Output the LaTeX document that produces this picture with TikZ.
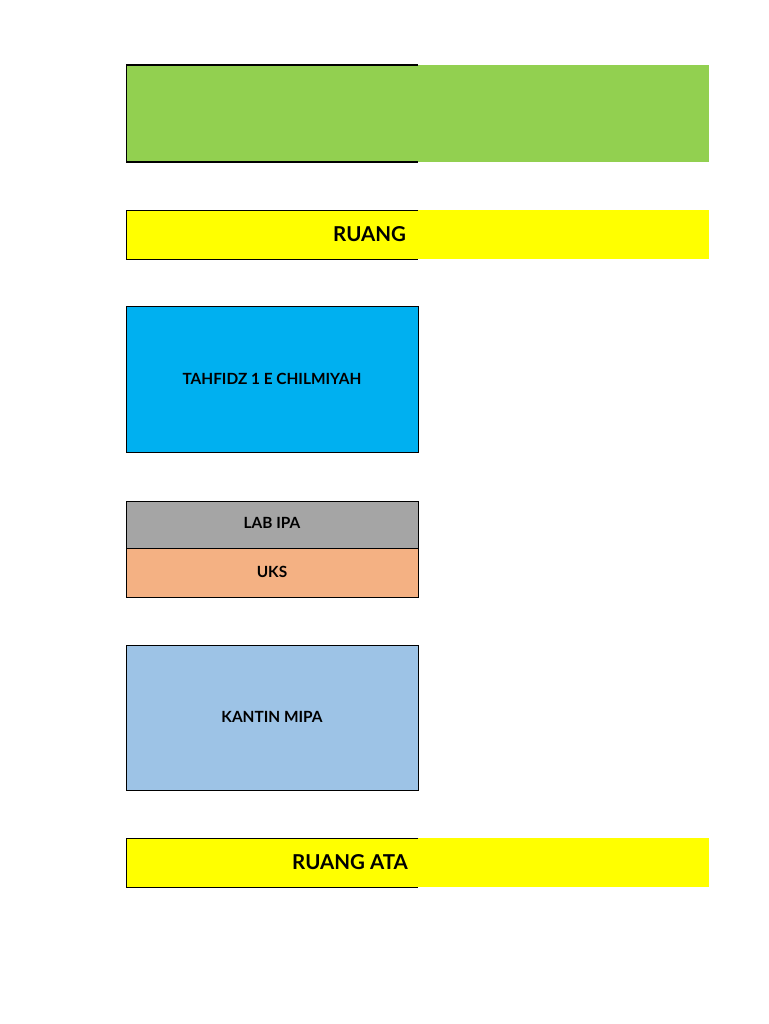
\documentclass[tikz,border=0pt]{standalone}
\usepackage{fontspec}
\setmainfont{Lato}
\definecolor{grn}{HTML}{92D050}
\definecolor{yel}{HTML}{FFFF00}
\definecolor{blu}{HTML}{00B0F0}
\definecolor{gry}{HTML}{A5A5A5}
\definecolor{org}{HTML}{F4B183}
\definecolor{lbl}{HTML}{9DC3E6}
\tikzset{lbl/.style={font=\bfseries\fontsize{15.4}{18}\selectfont,text=black},
 big/.style={font=\bfseries\fontsize{20.5}{24}\selectfont,text=black,inner sep=0pt}}
\begin{document}
\begin{tikzpicture}[x=1pt,y=-1pt]
\useasboundingbox (0,0) rectangle (768,1024);
% green
\fill[grn] (126,65) rectangle (709,162);
\draw[line width=1.5pt] (418,65) -- (126.5,65) -- (126.5,162) -- (418,162);
% yellow bars
\fill[yel] (126,210) rectangle (709,259);
\draw[line width=0.6pt] (418,210) -- (126,210) -- (126,259) -- (418,259);
\fill[yel] (126,838) rectangle (709,887);
\draw[line width=0.6pt] (418,838) -- (126,838) -- (126,887) -- (418,887);
\begin{scope}
\clip (126,200) rectangle (418,900);
\node[big,anchor=west] (r1) at (333,234) {RUANG};
\node[big,anchor=west] (r2) at (292,862) {RUANG ATA};
\end{scope}
% boxes
\draw[fill=blu,line width=0.6pt] (126,306) rectangle (418,452);
\node[lbl] (t) at (272,379) {TAHFIDZ 1 E CHILMIYAH};
\draw[fill=gry,line width=0.6pt] (126,501) rectangle (418,548);
\node[lbl] (lab) at (272,523) {LAB IPA};
\draw[fill=org,line width=0.6pt] (126,548) rectangle (418,597);
\node[lbl] (uks) at (272,572) {UKS};
\draw[fill=lbl,line width=0.6pt] (126,645) rectangle (418,790);
\node[lbl] (k) at (272,717) {KANTIN MIPA};
\end{tikzpicture}
\end{document}
